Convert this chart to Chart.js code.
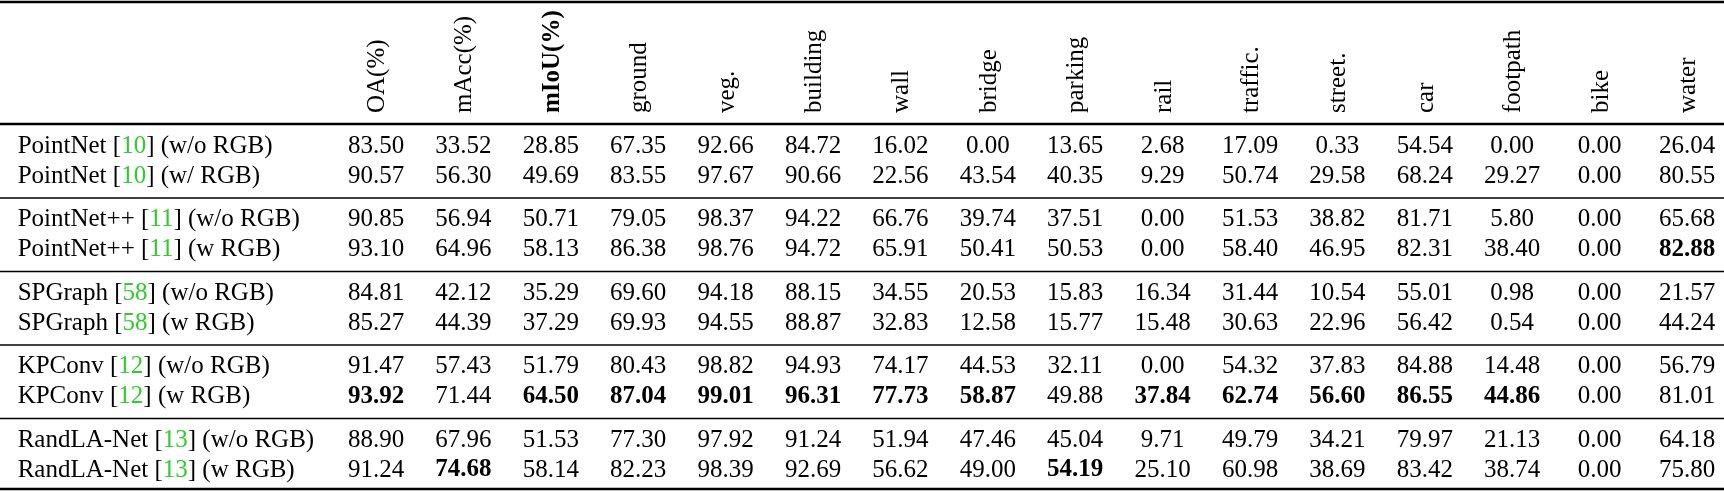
<!DOCTYPE html>
<html><head><meta charset="utf-8">
<script src="https://cdn.jsdelivr.net/npm/chart.js@4"></script>
<style>html,body{margin:0;padding:0;background:#fff}#w{width:1724px;height:491px}</style>
</head><body><div id="w"><canvas id="c"></canvas></div>
<script>
const columns = ["OA(%)","mAcc(%)","mIoU(%)","ground","veg.","building","wall","bridge","parking","rail","traffic.","street.","car","footpath","bike","water"];
const methods = ["PointNet","PointNet","PointNet++","PointNet++","SPGraph","SPGraph","KPConv","KPConv","RandLA-Net","RandLA-Net"];
const refs = ["10","10","11","11","58","58","12","12","13","13"];
const variants = ["(w/o RGB)","(w/ RGB)","(w/o RGB)","(w RGB)","(w/o RGB)","(w RGB)","(w/o RGB)","(w RGB)","(w/o RGB)","(w RGB)"];
const pointnetNoRGB   = [83.50,33.52,28.85,67.35,92.66,84.72,16.02,0.00,13.65,2.68,17.09,0.33,54.54,0.00,0.00,26.04];
const pointnetRGB     = [90.57,56.30,49.69,83.55,97.67,90.66,22.56,43.54,40.35,9.29,50.74,29.58,68.24,29.27,0.00,80.55];
const pointnet2NoRGB  = [90.85,56.94,50.71,79.05,98.37,94.22,66.76,39.74,37.51,0.00,51.53,38.82,81.71,5.80,0.00,65.68];
const pointnet2RGB    = [93.10,64.96,58.13,86.38,98.76,94.72,65.91,50.41,50.53,0.00,58.40,46.95,82.31,38.40,0.00,82.88];
const spgraphNoRGB    = [84.81,42.12,35.29,69.60,94.18,88.15,34.55,20.53,15.83,16.34,31.44,10.54,55.01,0.98,0.00,21.57];
const spgraphRGB      = [85.27,44.39,37.29,69.93,94.55,88.87,32.83,12.58,15.77,15.48,30.63,22.96,56.42,0.54,0.00,44.24];
const kpconvNoRGB     = [91.47,57.43,51.79,80.43,98.82,94.93,74.17,44.53,32.11,0.00,54.32,37.83,84.88,14.48,0.00,56.79];
const kpconvRGB       = [93.92,71.44,64.50,87.04,99.01,96.31,77.73,58.87,49.88,37.84,62.74,56.60,86.55,44.86,0.00,81.01];
const randlaNoRGB     = [88.90,67.96,51.53,77.30,97.92,91.24,51.94,47.46,45.04,9.71,49.79,34.21,79.97,21.13,0.00,64.18];
const randlaRGB       = [91.24,74.68,58.14,82.23,98.39,92.69,56.62,49.00,54.19,25.10,60.98,38.69,83.42,38.74,0.00,75.80];
const rows = [pointnetNoRGB,pointnetRGB,pointnet2NoRGB,pointnet2RGB,spgraphNoRGB,spgraphRGB,kpconvNoRGB,kpconvRGB,randlaNoRGB,randlaRGB];
const boldCells = [[3,15],[7,0],[7,2],[7,3],[7,4],[7,5],[7,6],[7,7],[7,9],[7,10],[7,11],[7,12],[7,13],[9,1],[9,8]];
const boldHeaders = [2];

const PAIR = 30, GAP = 73.5;
function rowY(r){ return Math.floor(r/2)*GAP + (r%2)*PAIR; }
const isBold = (r,c)=>boldCells.some(b=>b[0]===r&&b[1]===c);

const cells = [];
rows.forEach((vals,r)=>vals.forEach((v,c)=>cells.push({x:c,y:rowY(r),v,r,c})));

const FONT = '"Liberation Serif", "Times New Roman", serif';
const SIZE = '25px ';
const tablePlugin = {
  id:'table',
  afterDraw(chart){
    const ctx = chart.ctx, xs = chart.scales.x, ys = chart.scales.y;
    const W = chart.width;
    ctx.save();
    ctx.fillStyle='#000'; ctx.strokeStyle='#000';
    const hline=(yv,lw)=>{const y=ys.getPixelForValue(yv);ctx.lineWidth=lw;ctx.beginPath();ctx.moveTo(0,y);ctx.lineTo(W,y);ctx.stroke();};
    hline(-144,2.5);
    hline(-22,2.5);
    for(let g=1;g<5;g++) hline(g*GAP-21.5,1.3);
    hline(4*GAP+PAIR+19,2.5);
    columns.forEach((h,c)=>{
      const x = xs.getPixelForValue(c), y = ys.getPixelForValue(-33);
      ctx.save(); ctx.translate(x+8,y); ctx.rotate(-Math.PI/2);
      ctx.font=(boldHeaders.includes(c)?'bold ':'')+SIZE+FONT;
      ctx.textAlign='left'; ctx.textBaseline='alphabetic';
      ctx.fillText(h,0,0); ctx.restore();
    });
    ctx.textBaseline='middle'; ctx.textAlign='center';
    cells.forEach(p=>{
      ctx.font=(isBold(p.r,p.c)?'bold ':'')+SIZE+FONT;
      ctx.fillText(p.v.toFixed(2), xs.getPixelForValue(p.x), ys.getPixelForValue(p.y));
    });
    ctx.textAlign='left'; ctx.font=SIZE+FONT;
    methods.forEach((m,r)=>{
      const y = ys.getPixelForValue(rowY(r));
      let x = xs.getPixelForValue(-4.1);
      const parts=[[m+' [','#000'],[refs[r],'#2ecc2e'],['] '+variants[r],'#000']];
      parts.forEach(([t,col])=>{ctx.fillStyle=col;ctx.fillText(t,x,y);x+=ctx.measureText(t).width;});
    });
    ctx.restore();
  }
};

new Chart(document.getElementById('c'),{
  type:'scatter',
  data:{datasets:[{data:cells,pointRadius:0,pointHoverRadius:0}]},
  options:{
    responsive:true, maintainAspectRatio:false, animation:false,
    layout:{padding:0},
    plugins:{legend:{display:false},tooltip:{enabled:false}},
    scales:{
      x:{type:'linear',display:false,min:-376/87.4,max:(1724-376)/87.4},
      y:{type:'linear',display:false,reverse:true,min:-146,max:491-146}
    }
  },
  plugins:[tablePlugin]
});
</script></body></html>
